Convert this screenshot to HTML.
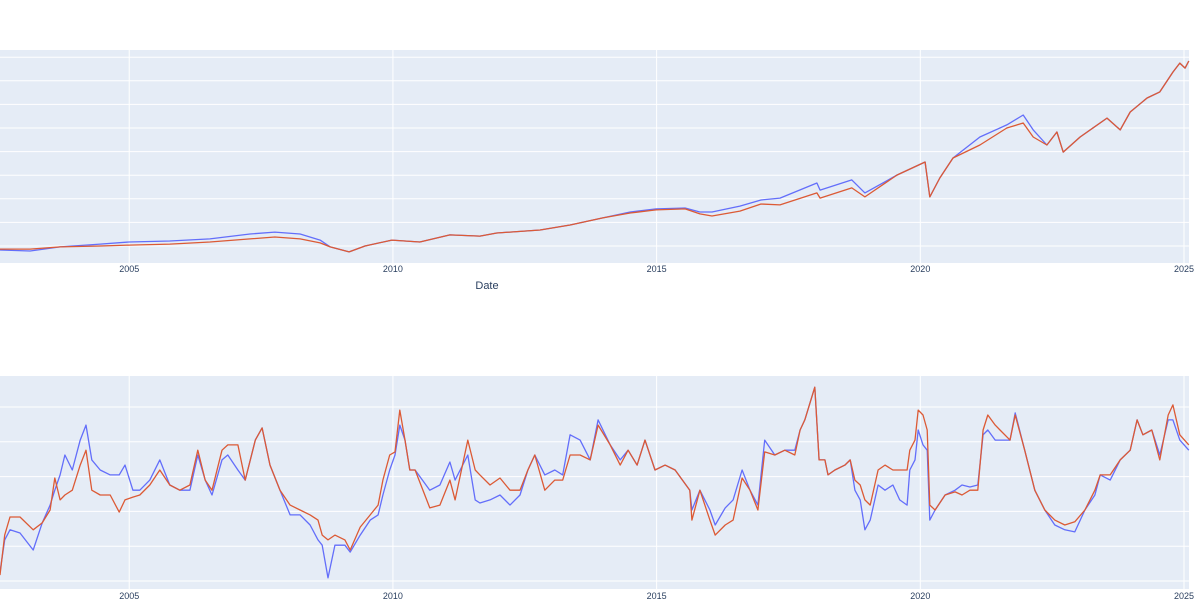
<!DOCTYPE html>
<html><head><meta charset="utf-8"><style>
html,body{margin:0;padding:0;background:#fff;}
svg{display:block;font-family:"Liberation Sans",sans-serif;}
</style></head><body>
<svg id="chart" width="1200" height="600" viewBox="0 0 1200 600">
<rect x="0" y="0" width="1200" height="600" fill="#fff"/>
<rect x="0" y="50" width="1189" height="213" fill="#e5ecf6"/>
<rect x="0" y="376" width="1189" height="213" fill="#e5ecf6"/>
<g id="grid"></g>
<g id="series"></g>
<g id="labels"></g>
<text x="487" y="289" font-size="11" fill="#2a3f5f" text-anchor="middle">Date</text>
</svg>
<script>
const xTicks = [2005, 2010, 2015, 2020, 2025];
const topGrid = [1,2,3,4,5,6,7,8,9];
const botGrid = [0,10,20,30,40,50];

const topDates = [2002.55,2003.12,2003.69,2004.45,2005.00,2005.77,2006.53,2007.29,2007.76,2008.24,2008.62,2008.81,2009.17,2009.47,2009.98,2010.51,2011.08,2011.65,2011.97,2012.79,2013.36,2013.98,2014.50,2014.99,2015.54,2015.82,2016.05,2016.58,2016.98,2017.34,2018.04,2018.10,2018.70,2018.95,2019.56,2020.09,2020.18,2020.37,2020.62,2021.13,2021.64,2021.95,2022.14,2022.40,2022.59,2022.71,2023.03,2023.54,2023.79,2023.98,2024.30,2024.54,2024.79,2024.92,2025.02,2025.09];
const topRed = [.87,.87,.96,1.0,1.04,1.08,1.17,1.30,1.38,1.30,1.13,.96,.75,1.0,1.25,1.17,1.47,1.42,1.55,1.68,1.89,2.19,2.40,2.53,2.57,2.36,2.27,2.48,2.78,2.74,3.25,3.03,3.46,3.08,4.01,4.56,3.08,3.88,4.73,5.28,6.00,6.21,5.62,5.28,5.83,4.98,5.62,6.42,5.92,6.68,7.27,7.53,8.37,8.75,8.54,8.84];
const topBlue = [.83,.79,.96,1.08,1.17,1.21,1.30,1.51,1.59,1.51,1.25,.96,.75,1.0,1.25,1.17,1.47,1.42,1.55,1.68,1.89,2.19,2.44,2.57,2.61,2.44,2.44,2.69,2.95,3.03,3.67,3.37,3.80,3.25,4.01,4.56,3.08,3.88,4.73,5.62,6.13,6.55,5.92,5.28,5.83,4.98,5.62,6.42,5.92,6.68,7.27,7.53,8.37,8.75,8.54,8.84];

const botDates = [2002.55,2002.64,2002.74,2002.93,2003.18,2003.35,2003.50,2003.59,2003.69,2003.78,2003.92,2004.07,2004.18,2004.29,2004.45,2004.64,2004.81,2004.92,2005.07,2005.20,2005.39,2005.58,2005.77,2005.96,2006.15,2006.30,2006.44,2006.57,2006.76,2006.87,2007.06,2007.20,2007.39,2007.52,2007.67,2007.86,2008.05,2008.24,2008.43,2008.58,2008.66,2008.77,2008.90,2009.09,2009.19,2009.38,2009.57,2009.72,2009.81,2009.94,2010.04,2010.13,2010.23,2010.32,2010.42,2010.70,2010.89,2011.08,2011.18,2011.42,2011.56,2011.65,2011.84,2012.03,2012.22,2012.41,2012.56,2012.69,2012.88,2013.07,2013.22,2013.36,2013.55,2013.74,2013.89,2014.12,2014.31,2014.46,2014.63,2014.78,2014.97,2015.16,2015.35,2015.63,2015.67,2015.82,2016.01,2016.11,2016.30,2016.45,2016.62,2016.77,2016.92,2017.05,2017.24,2017.43,2017.62,2017.72,2017.81,2018.00,2018.08,2018.19,2018.25,2018.38,2018.57,2018.67,2018.76,2018.86,2018.95,2019.05,2019.20,2019.33,2019.48,2019.61,2019.75,2019.80,2019.90,2019.96,2020.05,2020.13,2020.18,2020.28,2020.47,2020.66,2020.79,2020.94,2021.09,2021.19,2021.28,2021.42,2021.51,2021.70,2021.80,2021.98,2022.17,2022.36,2022.55,2022.74,2022.93,2023.12,2023.31,2023.41,2023.60,2023.79,2023.98,2024.11,2024.22,2024.39,2024.54,2024.70,2024.79,2024.92,2025.09];
const botRed = [1.7,13.2,18.4,18.4,14.7,16.7,20.4,29.6,23.3,24.7,26.1,33.3,37.6,26.1,24.7,24.7,19.8,23.3,24.1,24.7,27.6,31.9,27.6,26.1,27.6,37.6,29.0,26.1,37.6,39.1,39.1,29.0,40.5,44.0,33.3,26.1,21.8,20.4,19.0,17.5,13.2,11.8,13.2,11.8,8.9,15.5,19.0,21.8,29.0,36.2,37.1,49.1,40.5,31.9,31.9,21.0,21.8,29.0,23.3,40.5,31.9,30.5,27.6,29.6,26.1,26.1,31.9,36.2,26.1,29.0,29.0,36.2,36.2,34.8,44.8,39.1,33.3,37.6,33.3,40.5,31.9,33.3,31.9,26.1,17.5,26.1,17.5,13.2,16.1,17.5,29.6,26.1,20.4,37.1,36.2,37.6,36.2,43.4,46.3,55.7,34.8,34.8,30.5,31.9,33.3,34.8,29.0,27.6,23.3,21.8,31.9,33.3,31.9,31.9,31.9,37.6,40.5,49.1,47.7,43.4,21.8,20.4,24.7,25.6,24.7,26.1,26.1,43.4,47.7,44.8,43.4,40.5,47.7,37.6,26.1,20.4,17.5,16.1,17.0,20.4,26.1,30.5,30.5,34.8,37.6,46.3,42.0,43.4,34.8,47.7,50.6,42.0,39.1];
const botBlue = [2.6,11.8,14.7,13.8,8.9,16.7,21.8,26.1,30.5,36.2,31.9,40.5,44.8,34.8,31.9,30.5,30.5,33.3,26.1,26.1,29.0,34.8,27.6,26.1,26.1,36.2,29.0,24.7,34.8,36.2,31.9,29.0,40.5,44.0,33.3,26.1,19.0,19.0,16.1,11.8,10.3,0.9,10.3,10.3,8.3,13.2,17.5,19.0,24.7,31.9,36.2,44.8,40.5,31.9,31.9,26.1,27.6,34.2,29.0,36.2,23.3,22.4,23.3,24.7,21.8,24.7,31.9,36.2,30.5,31.9,30.5,42.0,40.5,34.8,46.3,39.1,34.8,37.6,33.3,40.5,31.9,33.3,31.9,26.1,20.4,26.1,20.4,16.1,21.0,23.3,31.9,26.1,21.8,40.5,36.2,37.6,37.6,43.4,46.3,55.7,34.8,34.8,30.5,31.9,33.3,34.8,26.1,23.3,14.7,17.5,27.6,26.1,27.6,23.3,21.8,31.9,34.8,43.4,39.1,37.6,17.5,20.4,24.7,26.1,27.6,27.0,27.6,42.0,43.4,40.5,40.5,40.5,48.3,37.6,26.1,20.4,16.1,14.7,14.1,20.4,24.7,30.5,29.0,34.8,37.6,46.3,42.0,43.4,36.2,46.3,46.3,40.5,37.6];

const NS = 'http://www.w3.org/2000/svg';
function xS(t){ return (t - 2002.55) * 52.74; }
function yTop(v){ return 269.6 - 23.6 * v; }
function yBot(v){ return 581 - 3.48 * v; }
const grid = document.getElementById('grid');
const series = document.getElementById('series');
const labels = document.getElementById('labels');

topGrid.forEach(v => {
  const l = document.createElementNS(NS,'line');
  l.setAttribute('x1',0); l.setAttribute('x2',1189);
  l.setAttribute('y1',yTop(v)); l.setAttribute('y2',yTop(v));
  l.setAttribute('stroke','#fff'); l.setAttribute('stroke-width','1');
  
  
  grid.appendChild(l);
});
botGrid.forEach(v => {
  const l = document.createElementNS(NS,'line');
  l.setAttribute('x1',0); l.setAttribute('x2',1189);
  l.setAttribute('y1',yBot(v)); l.setAttribute('y2',yBot(v));
  l.setAttribute('stroke','#fff'); l.setAttribute('stroke-width','1');
  
  
  grid.appendChild(l);
});
xTicks.forEach(t => {
  [[50,263,271],[376,589,598]].forEach(([a,b,ty]) => {
    const l = document.createElementNS(NS,'line');
    l.setAttribute('x1',xS(t)); l.setAttribute('x2',xS(t));
    l.setAttribute('y1',a); l.setAttribute('y2',b);
    l.setAttribute('stroke','#fff'); l.setAttribute('stroke-width','1');
    
    
    grid.appendChild(l);
    const tx = document.createElementNS(NS,'text');
    tx.setAttribute('x',xS(t)); tx.setAttribute('y',ty+1);
    tx.setAttribute('font-size','9'); tx.setAttribute('fill','#2a3f5f');
    tx.setAttribute('text-anchor','middle');
    tx.textContent = t;
    
    
    labels.appendChild(tx);
  });
});

function line(dates, vals, ys, color, name){
  const p = document.createElementNS(NS,'polyline');
  p.setAttribute('points', dates.map((d,i)=> xS(d).toFixed(1)+','+ys(vals[i]).toFixed(1)).join(' '));
  p.setAttribute('fill','none'); p.setAttribute('stroke',color);
  p.setAttribute('stroke-width','1.3'); p.setAttribute('stroke-linejoin','round');
  
  
  series.appendChild(p);
}
line(topDates, topBlue, yTop, '#636efa', 'top-series-blue');
line(topDates, topRed, yTop, '#dc5a35', 'top-series-red');
line(botDates, botBlue, yBot, '#636efa', 'bottom-series-blue');
line(botDates, botRed, yBot, '#dc5a35', 'bottom-series-red');
</script>
</body></html>
